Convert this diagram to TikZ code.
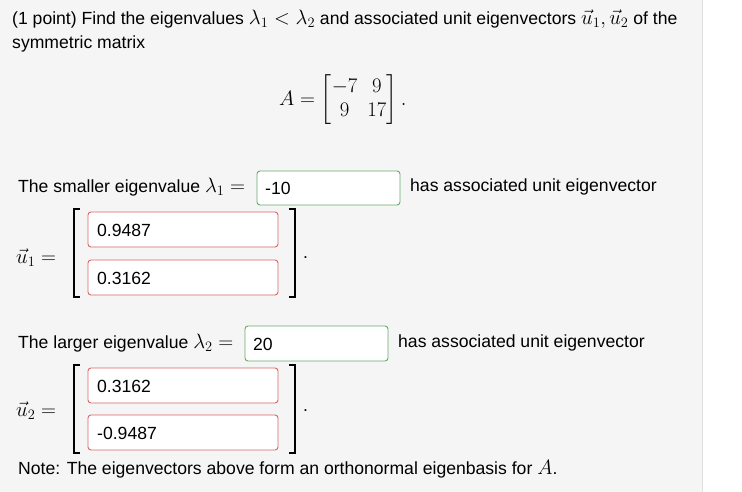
\documentclass[tikz,border=0pt]{standalone}
\usepackage{amsmath}
\usepackage{fontspec}
\setmainfont{Liberation Sans}
\newcommand{\Mth}[1]{{\fontsize{20.5}{24}\selectfont$#1$}}
\begin{document}
\begin{tikzpicture}[x=1pt,y=-1pt,
  txt/.style={anchor=west,inner sep=0pt,font=\fontsize{17.6}{20}\selectfont},
  green/.style={draw=green!45!black!60,fill=white,rounded corners=3pt,line width=0.9pt},
  red/.style={draw=red!50!black!50!red!60,fill=white,rounded corners=3pt,line width=0.9pt},
  br/.style={line width=1.2pt}]
\useasboundingbox (0,0) rectangle (742,492);
\fill[white] (0,0) rectangle (742,492);
\fill[black!4] (0,0) rectangle (702,492);
\draw[black!12] (702,0) -- (702,492);
\node[txt] (l1) at (12,19) {(1 point) Find the eigenvalues \Mth{\lambda_1<\lambda_2} and associated unit eigenvectors \Mth{\vec u_1, \vec u_2} of the};
\node[txt] (l2) at (12,44) {symmetric matrix};
\node[txt] (mat) at (279,100) {\Mth{A=\begin{bmatrix}-7 & 9\\ 9 & 17\end{bmatrix}.}};
% smaller
\node[txt] (s1) at (18,187) {The smaller eigenvalue \Mth{\lambda_1=}};
\draw[green] (257,171) rectangle (400,205);
\node[txt] (v1) at (265,188) {-10};
\node[txt] (h1) at (410,187) {has associated unit eigenvector};
\node[txt] (u1) at (16,258) {\Mth{\vec u_1=}};
\draw[br] (80,209) -- (74,209) -- (74,297) -- (80,297);
\draw[br] (289,209) -- (295,209) -- (295,297) -- (289,297);
\draw[red] (88,212) rectangle (278,247);
\draw[red] (88,260) rectangle (278,295);
\node[txt] (a1) at (97,230) {0.9487};
\node[txt] (a2) at (97,278) {0.3162};
\node[txt] (d1) at (303,258) {.};
% larger
\node[txt] (s2) at (18,343) {The larger eigenvalue \Mth{\lambda_2=}};
\draw[green] (245,326) rectangle (388,361);
\node[txt] (v2) at (253,344) {20};
\node[txt] (h2) at (398,343) {has associated unit eigenvector};
\node[txt] (u2) at (16,411) {\Mth{\vec u_2=}};
\draw[br] (80,365) -- (74,365) -- (74,453) -- (80,453);
\draw[br] (289,365) -- (295,365) -- (295,453) -- (289,453);
\draw[red] (88,368) rectangle (278,403);
\draw[red] (88,415) rectangle (278,450);
\node[txt] (b1) at (97,386) {0.3162};
\node[txt] (b2) at (97,433) {-0.9487};
\node[txt] (d2) at (303,411) {.};
\node[txt] (note) at (18,469) {Note: The eigenvectors above form an orthonormal eigenbasis for \Mth{A}.};
\end{tikzpicture}
\end{document}
